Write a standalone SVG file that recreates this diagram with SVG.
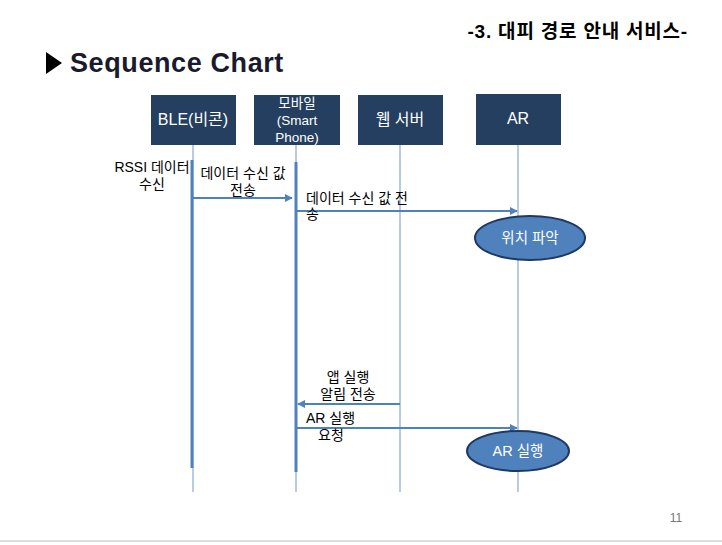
<svg xmlns="http://www.w3.org/2000/svg" width="722" height="545" viewBox="0 0 722 545">
<defs>
<style>
text{font-family:"Liberation Sans","Noto Sans CJK KR",sans-serif;}
.box{fill:#243F60;}
.bt{fill:#fff;font-size:16px;text-anchor:middle;}
.bt2{fill:#fff;font-size:13.5px;text-anchor:middle;}
.life{stroke:#4F81BD;stroke-width:1;opacity:0.8;}
.bar{stroke:#4F81BD;stroke-width:3;}
.arr{stroke:#4F81BD;stroke-width:2;fill:none;marker-end:url(#ah);}
.lbl{font-size:14px;fill:#000;}
.ell{fill:#4F81BD;stroke:#1F3864;stroke-width:2;}
.et{fill:#fff;font-size:14.5px;text-anchor:middle;}
</style>
<marker id="ah" viewBox="0 0 10 10" refX="9" refY="5" markerWidth="4" markerHeight="4" orient="auto"><path d="M0,0L10,5L0,10z" fill="#4F81BD"/></marker>
</defs>
<rect width="722" height="545" fill="#fff"/>
<text x="688" y="38" font-size="19" font-weight="bold" text-anchor="end" fill="#000" letter-spacing="0.8">-3. 대피 경로 안내 서비스-</text>
<path d="M46,52L62,63L46,74z" fill="#000"/>
<text x="70" y="72" font-size="27" font-weight="bold" fill="#1a1a2e" letter-spacing="0.6">Sequence Chart</text>
<line x1="0" y1="541" x2="722" y2="541" stroke="#bbb" stroke-width="1"/>
<text x="676" y="522" font-size="12" fill="#777" text-anchor="middle">11</text>
<g id="connectors">
<line class="life" x1="193" y1="145" x2="193" y2="492"/>
<line class="life" x1="296" y1="145" x2="296" y2="492"/>
<line class="life" x1="400" y1="145" x2="400" y2="492"/>
<line class="life" x1="518" y1="145" x2="518" y2="492"/>
<line class="bar" x1="192" y1="160" x2="192" y2="468"/>
<line class="bar" x1="296" y1="162" x2="296" y2="472"/>
<line class="arr" x1="193" y1="198" x2="292" y2="198"/>
<line class="arr" x1="297" y1="211" x2="517" y2="211"/>
<line class="arr" x1="400" y1="404" x2="298" y2="404"/>
<line class="arr" x1="297" y1="428" x2="517" y2="428"/>
<text class="lbl" x="152" y="172" text-anchor="middle">RSSI 데이터</text>
<text class="lbl" x="152" y="189" text-anchor="middle">수신</text>
<text class="lbl" x="243" y="178" text-anchor="middle">데이터 수신 값</text>
<text class="lbl" x="243" y="195" text-anchor="middle">전송</text>
<text class="lbl" x="306" y="203">데이터 수신 값 전</text>
<text class="lbl" x="306" y="219">송</text>
<text class="lbl" x="348" y="382" text-anchor="middle">앱 실행</text>
<text class="lbl" x="348" y="399" text-anchor="middle">알림 전송</text>
<text class="lbl" x="306" y="423">AR 실행</text>
<text class="lbl" x="318" y="440">요청</text>
</g>
<g id="ble"><rect class="box" x="151" y="95" width="85" height="50"/><text class="bt" x="193" y="125">BLE(비콘)</text></g>
<g id="mobile"><rect class="box" x="254" y="95" width="86" height="50"/><text class="bt2" x="297" y="108">모바일</text><text class="bt2" x="297" y="125">(Smart</text><text class="bt2" x="297" y="142">Phone)</text></g>
<g id="web"><rect class="box" x="358" y="95" width="85" height="50"/><text class="bt" x="400" y="125">웹 서버</text></g>
<g id="ar"><rect class="box" x="476" y="94" width="85" height="51"/><text class="bt" x="518" y="124">AR</text></g>
<g id="locate"><ellipse class="ell" cx="530" cy="238" rx="55" ry="22"/><text class="et" x="530" y="243">위치 파악</text></g>
<g id="arrun"><ellipse class="ell" cx="518" cy="451" rx="51" ry="20"/><text class="et" x="518" y="456">AR 실행</text></g>
</svg>
